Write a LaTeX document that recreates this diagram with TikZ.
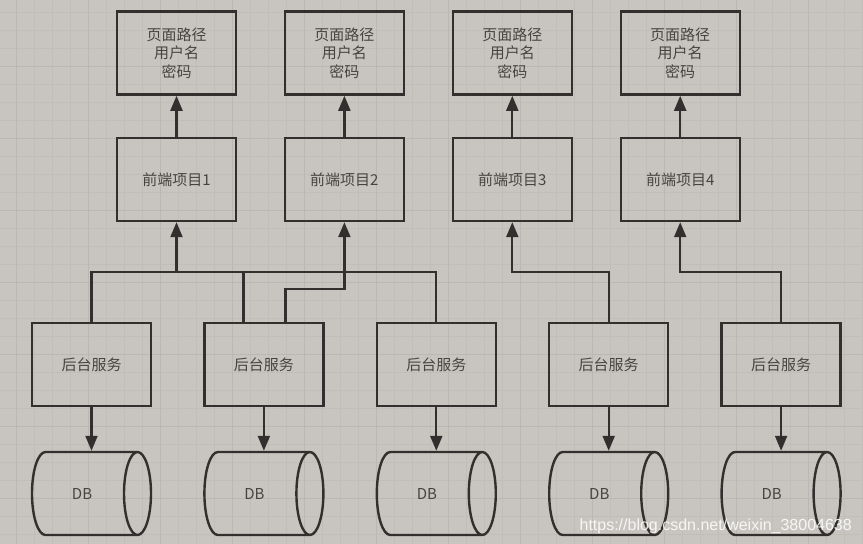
\documentclass[tikz,border=0pt]{standalone}
\usepackage{fontspec}
\setmainfont{Noto Sans CJK SC}
\newfontfamily\wmfont{Liberation Sans}
\usepackage{xcolor}
\usetikzlibrary{arrows.meta,positioning,shapes.geometric}

\definecolor{paper}{RGB}{200,197,192}
\definecolor{gridminor}{RGB}{193,190,185}
\definecolor{gridmajor}{RGB}{187,184,179}
\definecolor{ink}{RGB}{50,48,46}
\definecolor{txt}{RGB}{70,68,66}

\begin{document}
\begin{tikzpicture}[
    x=1pt, y=-1pt,
    node distance=41pt and 46.5pt,
    >={Triangle[length=15pt,width=12pt]},
    every node/.style={font=\fontsize{15}{18.5}\selectfont, text=txt},
    box/.style={draw=ink, line width=2.4pt, minimum width=119pt,
                minimum height=83pt, align=center, inner sep=2pt},
    dbcyl/.style={draw=ink, line width=2.4pt, cylinder, shape aspect=1.8,
                  minimum width=83pt, minimum height=119pt, inner sep=2pt,
                  anchor=west},
    link/.style={draw=ink, line width=2.2pt},
    wm/.style={font=\wmfont\fontsize{16}{16}\selectfont, text=white,
               text opacity=0.85, inner sep=0pt},
]

% --- Paper and grid ---
\fill[paper] (0,0) rectangle (863,544);
\useasboundingbox (0,0) rectangle (863,544);
\foreach \gx in {16,34,...,862} \draw[gridminor, line width=0.8pt] (\gx,0) -- (\gx,544);
\foreach \gy in {12,30,...,543} \draw[gridminor, line width=0.8pt] (0,\gy) -- (863,\gy);
\foreach \gx in {16,88,...,862} \draw[gridmajor, line width=1pt] (\gx,0) -- (\gx,544);
\foreach \gy in {66,138,...,543} \draw[gridmajor, line width=1pt] (0,\gy) -- (863,\gy);

% --- Front-end projects ---
\node[box] (fe1) at (176.5,179.5) {前端项目1};
\node[box, right=of fe1] (fe2) {前端项目2};
\node[box, right=of fe2] (fe3) {前端项目3};
\node[box, right=of fe3] (fe4) {前端项目4};

% --- Page info ---
\node[box, above=of fe1] (pg1) {页面路径\\用户名\\密码};
\node[box, above=of fe2] (pg2) {页面路径\\用户名\\密码};
\node[box, above=of fe3] (pg3) {页面路径\\用户名\\密码};
\node[box, above=of fe4] (pg4) {页面路径\\用户名\\密码};

% --- Back-end services ---
\node[box] (be1) at (91.5,364.5) {后台服务};
\node[box, right=51pt of be1] (be2) {后台服务};
\node[box, right=51pt of be2] (be3) {后台服务};
\node[box, right=51pt of be3] (be4) {后台服务};
\node[box, right=51pt of be4] (be5) {后台服务};

% --- Databases ---
\node[dbcyl] (db1) at ([yshift=-129pt]be1.west) {DB};
\node[dbcyl] (db2) at ([yshift=-129pt]be2.west) {DB};
\node[dbcyl] (db3) at ([yshift=-129pt]be3.west) {DB};
\node[dbcyl] (db4) at ([yshift=-129pt]be4.west) {DB};
\node[dbcyl] (db5) at ([yshift=-129pt]be5.west) {DB};

% --- Arrows ---
\draw[link, ->] (fe1) -- (pg1);
\draw[link, ->] (fe2) -- (pg2);
\draw[link, ->] (fe3) -- (pg3);
\draw[link, ->] (fe4) -- (pg4);

\draw[link, ->] (be1.south) -- (be1.south |- db1.north);
\draw[link, ->] (be2.south) -- (be2.south |- db2.north);
\draw[link, ->] (be3.south) -- (be3.south |- db3.north);
\draw[link, ->] (be4.south) -- (be4.south |- db4.north);
\draw[link, ->] (be5.south) -- (be5.south |- db5.north);

\coordinate (bus) at (0,272);
\coordinate (jog) at (0,289);
\draw[link] (be1.north) -- (be1.north |- bus) -- (be3.north |- bus) -- (be3.north);
\draw[link] ([xshift=-20.5pt]be2.north) -- ([xshift=-20.5pt]be2.north |- bus);
\draw[link, ->] (fe1.south |- bus) -- (fe1.south);
\draw[link, ->] ([xshift=21.5pt]be2.north) -- ([xshift=21.5pt]be2.north |- jog) -| (fe2.south);
\draw[link, ->] (be4.north) -- (be4.north |- bus) -| (fe3.south);
\draw[link, ->] (be5.north) -- (be5.north |- bus) -| (fe4.south);

% --- Watermark ---
\node[wm, anchor=base east] (mark) at (852,530) {https://blog.csdn.net/weixin\_38004638};

\end{tikzpicture}
\end{document}
